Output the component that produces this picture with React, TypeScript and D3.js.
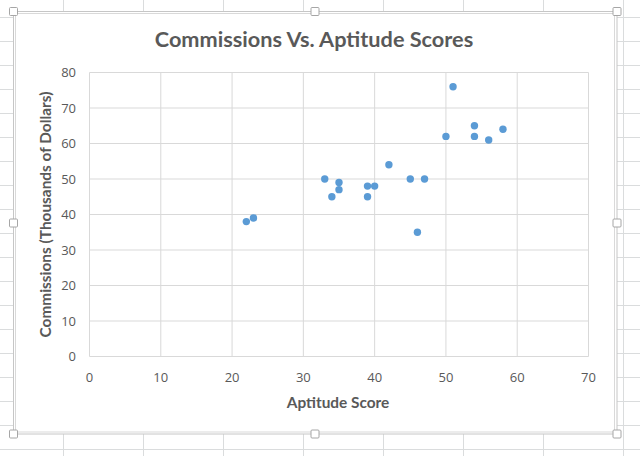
import React from 'react';
import * as d3 from 'd3';

// Aptitude score (x) and commission in $000 (y), one entry per salesperson
const aptitudeScores = [22, 23, 33, 34, 35, 35, 39, 40, 39, 42, 45, 47, 46, 50, 51, 54, 54, 56, 58];
const commissions = [38, 39, 50, 45, 49, 47, 48, 48, 45, 54, 50, 50, 35, 62, 76, 65, 62, 61, 64];

const xTicks = [0, 10, 20, 30, 40, 50, 60, 70];
const yTicks = [0, 10, 20, 30, 40, 50, 60, 70, 80];

const chartTitle = 'Commissions Vs. Aptitude Scores';
const xTitle = 'Aptitude Score';
const yTitle = 'Commissions (Thousands of Dollars)';

const W = 640;
const H = 456;

const App: React.FC = () => {
  const x = d3.scaleLinear().domain([0, 70]).range([89.5, 588.5]);
  const y = d3.scaleLinear().domain([0, 80]).range([356.5, 72.5]);

  // spreadsheet cells behind the chart
  const cols = d3.range(63.5, W, 80);
  const rows = d3.range(17.5, H, 24);

  const handles: [number, number][] = [
    [13.5, 11.5], [315, 11.5], [617, 11.5],
    [13.5, 223], [617, 223],
    [13.5, 434], [315, 434], [617, 434],
  ];

  const tickFont = '"Open Sans", sans-serif';
  const titleFont = 'Lato, "Open Sans", sans-serif';
  const textColor = '#595959';

  return (
    <svg width={W} height={H} style={{ position: 'absolute', left: 0, top: 0, background: '#fff' }}>
      {cols.map((c) => (
        <line key={'c' + c} x1={c} x2={c} y1={0} y2={H} stroke="#dadcdd" />
      ))}
      {rows.map((r) => (
        <line key={'r' + r} x1={0} x2={W} y1={r} y2={r} stroke="#dadcdd" />
      ))}

      {/* chart area + selection frame */}
      <rect x={13.5} y={11.5} width={603.5} height={422.5} fill="#fff" stroke="#c6c6c6" />
      <rect x={15.5} y={13.5} width={599} height={418.5} fill="#fff" stroke="#d9d9d9" />

      {/* grid */}
      {xTicks.map((t) => (
        <line key={'gx' + t} x1={x(t)} x2={x(t)} y1={y(80)} y2={y(0)} stroke="#d9d9d9" />
      ))}
      {yTicks.map((t) => (
        <line key={'gy' + t} x1={x(0)} x2={x(70)} y1={y(t)} y2={y(t)} stroke="#d9d9d9" />
      ))}

      {/* tick labels */}
      {yTicks.map((t) => (
        <text key={'ly' + t} x={76} y={y(t)} dy="0.35em" textAnchor="end" fontFamily={tickFont} fontSize={13} fill={textColor}>
          {t}
        </text>
      ))}
      {xTicks.map((t) => (
        <text key={'lx' + t} x={x(t)} y={382} textAnchor="middle" fontFamily={tickFont} fontSize={13} fill={textColor}>
          {t}
        </text>
      ))}

      {/* points */}
      {aptitudeScores.map((a, i) => (
        <circle key={'p' + i} cx={x(a)} cy={y(commissions[i])} r={3.7} fill="#5b9bd5" />
      ))}

      {/* titles */}
      <text x={314} y={47} textAnchor="middle" fontFamily={titleFont} fontWeight="bold" fontSize={21.7} fill={textColor}>
        {chartTitle}
      </text>
      <text x={338} y={408} textAnchor="middle" fontFamily={titleFont} fontWeight="bold" fontSize={15.4} fill={textColor}>
        {xTitle}
      </text>
      <text
        transform={`translate(51, ${(y(0) + y(80)) / 2}) rotate(-90)`}
        textAnchor="middle"
        fontFamily={titleFont}
        fontWeight="bold"
        fontSize={15.4}
        fill={textColor}
      >
        {yTitle}
      </text>

      {handles.map(([hx, hy], i) => (
        <rect key={'h' + i} x={hx - 4} y={hy - 4} width={8} height={8} rx={1} fill="#fff" stroke="#a6a6a6" />
      ))}
    </svg>
  );
};

export default App;
